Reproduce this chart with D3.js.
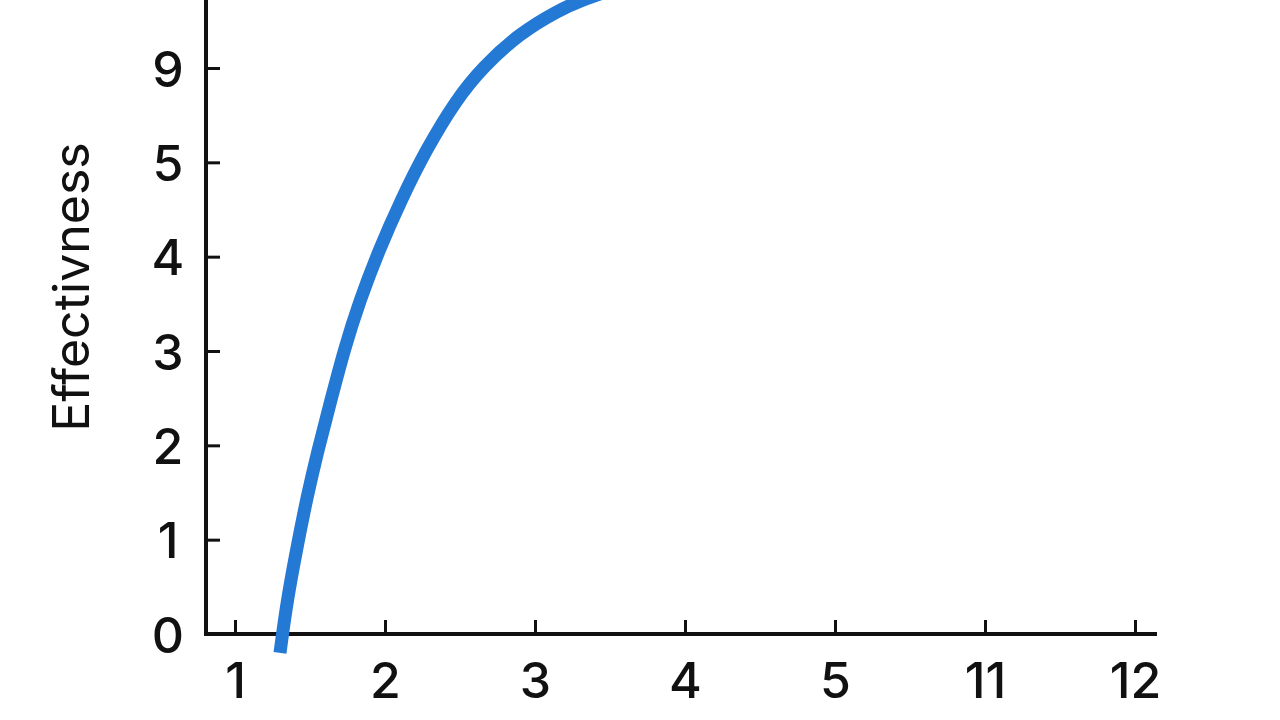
<!DOCTYPE html>
<html>
<head>
<meta charset="utf-8">
<script src="https://cdn.jsdelivr.net/npm/d3@7"></script>
<style>
  html, body { margin: 0; padding: 0; background: #fff; overflow: hidden; }
  svg { display: block; }
</style>
</head>
<body>
<svg id="chart" width="1280" height="720"></svg>
<script>
// ---- data ----
const xTickLabels = ["1", "2", "3", "4", "5", "11", "12"];
const yTickLabels = ["0", "1", "2", "3", "4", "5", "9"];
// curve: x in axis units (tick index + 1), y in axis tick positions
const curveX = [1.300, 1.347, 1.420, 1.480, 1.553, 1.640, 1.727, 1.833, 1.960, 2.107, 2.273, 2.473, 2.653, 2.900, 3.160, 3.313, 3.473];
const curveY = [-0.201, 0.360, 0.975, 1.452, 1.951, 2.481, 3.011, 3.541, 4.071, 4.601, 5.131, 5.661, 6.011, 6.371, 6.615, 6.721, 6.806];
const yAxisTitle = "Effectivness";

// ---- layout ----
const svg = d3.select("#chart");
const font = "Inter, 'DejaVu Sans', sans-serif";
const x = d3.scaleLinear().domain([1, 7]).range([235, 1135]);
const y = d3.scaleLinear().domain([0, 6]).range([634, 68]);

// axes lines
svg.append("line")
  .attr("x1", 206).attr("x2", 206).attr("y1", 0).attr("y2", y(0) + 2)
  .attr("stroke", "#111").attr("stroke-width", 4);
svg.append("line")
  .attr("x1", 204).attr("x2", 1157).attr("y1", y(0)).attr("y2", y(0))
  .attr("stroke", "#111").attr("stroke-width", 4);

// x axis ticks + labels
const xAxis = d3.axisBottom(x)
  .tickValues(d3.range(1, 8))
  .tickSize(-14)
  .tickPadding(0)
  .tickFormat((d, i) => xTickLabels[i]);
const gx = svg.append("g").attr("transform", `translate(0,${y(0)})`).call(xAxis);
gx.select(".domain").remove();
gx.selectAll(".tick line").attr("stroke", "#111").attr("stroke-width", 3);
gx.selectAll(".tick text")
  .attr("y", 64).attr("dy", 0)
  .attr("font-family", font).attr("font-size", 50).attr("font-weight", 500).attr("fill", "#111")
  .attr("text-anchor", "middle");

// y axis ticks + labels
const yAxis = d3.axisLeft(y)
  .tickValues(d3.range(0, 7))
  .tickSize(-14)
  .tickPadding(0)
  .tickFormat((d, i) => yTickLabels[i]);
const gy = svg.append("g").attr("transform", "translate(206,0)").call(yAxis);
gy.select(".domain").remove();
gy.selectAll(".tick line").attr("stroke", "#111").attr("stroke-width", 3);
gy.selectAll(".tick line").filter(d => d === 0).remove();
gy.selectAll(".tick text")
  .attr("x", -38).attr("dy", "0.36em")
  .attr("font-family", font).attr("font-size", 50).attr("font-weight", 500).attr("fill", "#111")
  .attr("text-anchor", "middle");

// y axis title
svg.append("text")
  .attr("transform", "translate(89,287) rotate(-90)")
  .attr("text-anchor", "middle")
  .attr("font-family", font).attr("font-size", 50).attr("fill", "#111")
  .text(yAxisTitle);

// curve
const pts = curveX.map((v, i) => [v, curveY[i]]);
const line = d3.line()
  .x(d => x(d[0])).y(d => y(d[1]))
  .curve(d3.curveBasis);
svg.append("path")
  .attr("d", line(pts))
  .attr("fill", "none")
  .attr("stroke", "#2479d4")
  .attr("stroke-width", 13)
  .attr("stroke-linecap", "butt");
</script>
</body>
</html>
